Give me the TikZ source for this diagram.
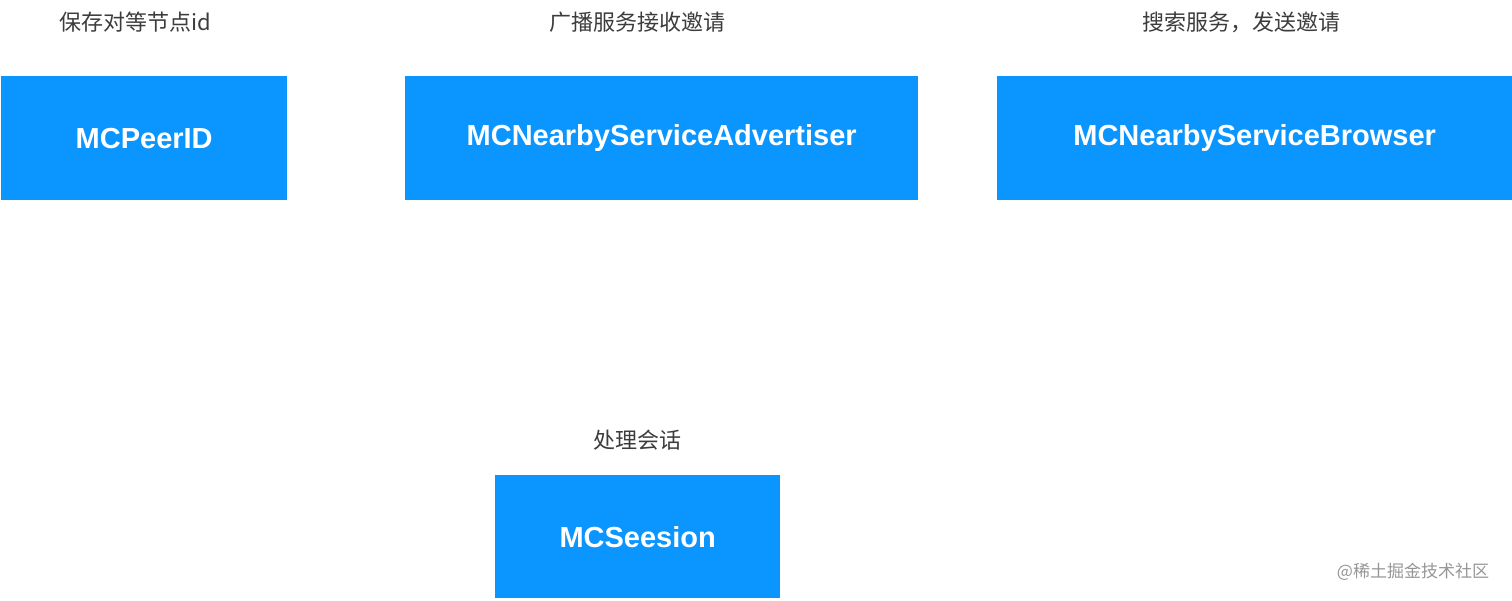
\documentclass[tikz,border=0pt]{standalone}
\usepackage{fontspec}
\setmainfont{Liberation Sans}
\newfontfamily\cjk{Noto Sans CJK SC}
\begin{document}
\begin{tikzpicture}[x=1pt,y=-1pt,
  box/.style={fill={rgb,255:red,10;green,149;blue,255},draw=none,text=white,font=\fontsize{29}{32}\selectfont\bfseries,anchor=north west,inner sep=0pt},
  lbl/.style={text={rgb,255:red,60;green,60;blue,60},font=\cjk\fontsize{22}{26}\selectfont,inner sep=0pt}]
\useasboundingbox (0,0) rectangle (1512,600);
\fill[white] (0,0) rectangle (1512,600);
\node[box,minimum width=286pt,minimum height=124pt] (peer) at (1,76) {MCPeerID};
\node[box,minimum width=513pt,minimum height=124pt] (adv) at (405,76) {MCNearbyServiceAdvertiser};
\node[box,minimum width=515pt,minimum height=124pt] (brw) at (997,76) {MCNearbyServiceBrowser};
\node[box,minimum width=285pt,minimum height=123pt] (ses) at (495,475) {MCSeesion};
\node[lbl] (l1) at (135,22) {保存对等节点id};
\node[lbl] (l2) at (637,22) {广播服务接收邀请};
\node[lbl] (l3) at (1241,22) {搜索服务，发送邀请};
\node[lbl] (l4) at (637,440) {处理会话};
\node[text={rgb,255:red,150;green,150;blue,150},font=\cjk\fontsize{17}{20}\selectfont,inner sep=0pt] (wm) at (1413,572) {@稀土掘金技术社区};
\end{tikzpicture}
\end{document}
